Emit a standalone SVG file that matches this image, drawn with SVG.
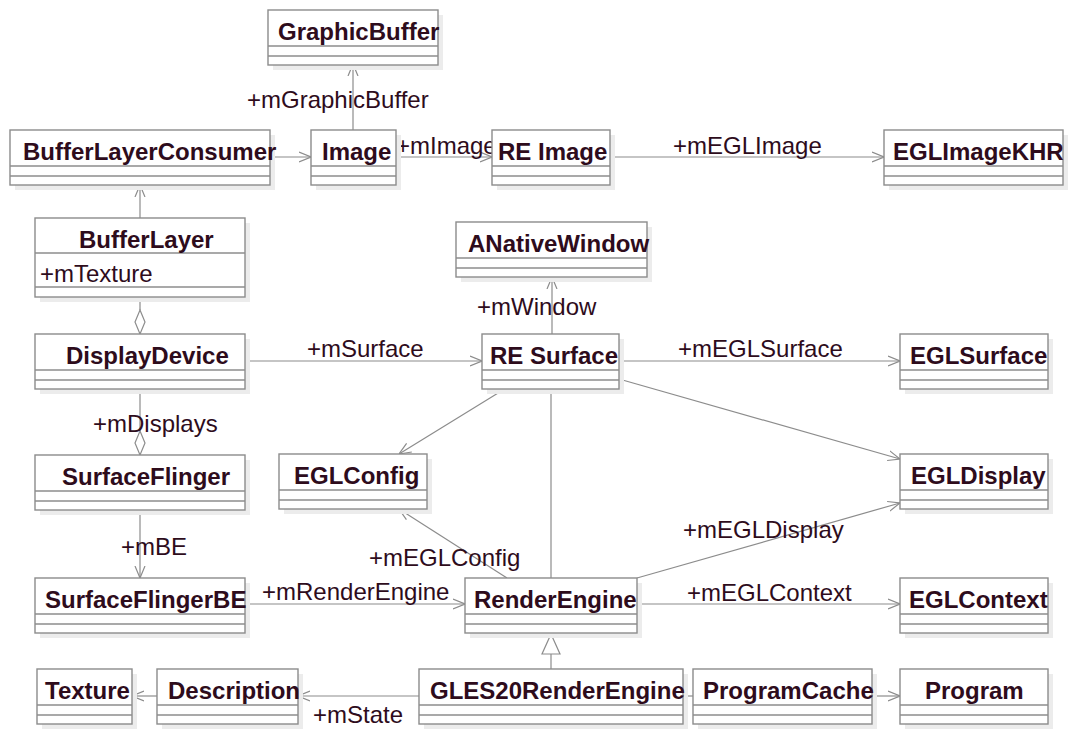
<svg xmlns="http://www.w3.org/2000/svg" width="1074" height="735" viewBox="0 0 1074 735">
<style>
.sh{fill:#ececec;stroke:none}
.box{fill:#fff;stroke:#8c8c8c;stroke-width:1.4}
.sep{stroke:#8c8c8c;stroke-width:1.4}
.nm{font-family:"Liberation Sans",Arial,sans-serif;font-weight:bold;font-size:24px;fill:#2e0c1c}
.at{font-family:"Liberation Sans",Arial,sans-serif;font-size:24px;fill:#2e0c1c}
.lb{font-family:"Liberation Sans",Arial,sans-serif;font-size:24px;fill:#2e0c1c}
.cn{fill:none;stroke:#8c8c8c;stroke-width:1.2}
.dm{fill:#fff;stroke:#8c8c8c;stroke-width:1.2}
</style>
<defs>
<marker id="oa" viewBox="0 0 12 12" refX="12" refY="6" markerWidth="12" markerHeight="12" markerUnits="userSpaceOnUse" orient="auto">
<path d="M0,1 L12,6 L0,11" fill="none" stroke="#8c8c8c" stroke-width="1.2"/>
</marker>
</defs>
<rect width="1074" height="735" fill="#fff"/>

<g id="connectors">
<line class="cn" x1="353" y1="130" x2="353" y2="64" marker-end="url(#oa)"/>
<line class="cn" x1="270" y1="157" x2="311" y2="157" marker-end="url(#oa)"/>
<line class="cn" x1="396" y1="157" x2="492" y2="157" marker-end="url(#oa)"/>
<line class="cn" x1="610" y1="157" x2="884" y2="157" marker-end="url(#oa)"/>
<line class="cn" x1="140" y1="218" x2="140" y2="185" marker-end="url(#oa)"/>
<line class="cn" x1="140" y1="297" x2="140" y2="310"/>
<polygon class="dm" points="140,310 145,322 140,334 135,322"/>
<line class="cn" x1="140" y1="389" x2="140" y2="431"/>
<polygon class="dm" points="140,431 145,443 140,455 135,443"/>
<line class="cn" x1="140" y1="510" x2="140" y2="578" marker-end="url(#oa)"/>
<line class="cn" x1="552" y1="334" x2="552" y2="277" marker-end="url(#oa)"/>
<line class="cn" x1="245" y1="361" x2="482" y2="361" marker-end="url(#oa)"/>
<line class="cn" x1="619" y1="361" x2="900" y2="361" marker-end="url(#oa)"/>
<line class="cn" x1="503" y1="390" x2="399" y2="454" marker-end="url(#oa)"/>
<line class="cn" x1="619" y1="379" x2="900" y2="459" marker-end="url(#oa)"/>
<line class="cn" x1="551" y1="389" x2="551" y2="578"/>
<line class="cn" x1="507" y1="578" x2="399" y2="509" marker-end="url(#oa)"/>
<line class="cn" x1="637" y1="578" x2="900" y2="503" marker-end="url(#oa)"/>
<line class="cn" x1="245" y1="604" x2="465" y2="604" marker-end="url(#oa)"/>
<line class="cn" x1="637" y1="604" x2="900" y2="604" marker-end="url(#oa)"/>
<line class="cn" x1="551" y1="669" x2="551" y2="654"/>
<polygon class="dm" points="551,634 560,654 542,654"/>
<line class="cn" x1="419" y1="696" x2="298" y2="696" marker-end="url(#oa)"/>
<line class="cn" x1="157" y1="696" x2="132" y2="696" marker-end="url(#oa)"/>
<line class="cn" x1="683" y1="696" x2="693" y2="696"/>
<line class="cn" x1="872" y1="696" x2="900" y2="696" marker-end="url(#oa)"/>
<text class="lb" x="247" y="108">+mGraphicBuffer</text>
<text class="lb" x="396" y="154">+mImage</text>
<text class="lb" x="673" y="154">+mEGLImage</text>
<text class="lb" x="477" y="315">+mWindow</text>
<text class="lb" x="307" y="357">+mSurface</text>
<text class="lb" x="678" y="357">+mEGLSurface</text>
<text class="lb" x="93" y="432">+mDisplays</text>
<text class="lb" x="683" y="538">+mEGLDisplay</text>
<text class="lb" x="121" y="555">+mBE</text>
<text class="lb" x="369" y="566">+mEGLConfig</text>
<text class="lb" x="262" y="600">+mRenderEngine</text>
<text class="lb" x="687" y="601">+mEGLContext</text>
<text class="lb" x="313" y="723">+mState</text>
</g>

<g id="GraphicBuffer"><rect class="sh" x="273" y="15" width="170" height="55"/><rect class="box" x="268" y="10" width="170" height="55"/><line class="sep" x1="268" y1="46" x2="438" y2="46"/><line class="sep" x1="268" y1="56" x2="438" y2="56"/><text class="nm" x="278" y="40">GraphicBuffer</text></g>
<g id="BufferLayerConsumer"><rect class="sh" x="15" y="135" width="260" height="55"/><rect class="box" x="10" y="130" width="260" height="55"/><line class="sep" x1="10" y1="166" x2="270" y2="166"/><line class="sep" x1="10" y1="176" x2="270" y2="176"/><text class="nm" x="23" y="160">BufferLayerConsumer</text></g>
<g id="Image"><rect class="sh" x="316" y="135" width="85" height="55"/><rect class="box" x="311" y="130" width="85" height="55"/><line class="sep" x1="311" y1="166" x2="396" y2="166"/><line class="sep" x1="311" y1="176" x2="396" y2="176"/><text class="nm" x="322" y="160">Image</text></g>
<g id="REImage"><rect class="sh" x="497" y="135" width="118" height="55"/><rect class="box" x="492" y="130" width="118" height="55"/><line class="sep" x1="492" y1="166" x2="610" y2="166"/><line class="sep" x1="492" y1="176" x2="610" y2="176"/><text class="nm" x="498" y="160">RE Image</text></g>
<g id="EGLImageKHR"><rect class="sh" x="889" y="135" width="179" height="55"/><rect class="box" x="884" y="130" width="179" height="55"/><line class="sep" x1="884" y1="166" x2="1063" y2="166"/><line class="sep" x1="884" y1="176" x2="1063" y2="176"/><text class="nm" x="893" y="160">EGLImageKHR</text></g>
<g id="BufferLayer"><rect class="sh" x="40" y="223" width="210" height="79"/><rect class="box" x="35" y="218" width="210" height="79"/><line class="sep" x1="35" y1="253" x2="245" y2="253"/><line class="sep" x1="35" y1="287" x2="245" y2="287"/><text class="nm" x="79" y="248">BufferLayer</text><text class="at" x="40" y="282">+mTexture</text></g>
<g id="ANativeWindow"><rect class="sh" x="461" y="227" width="191" height="55"/><rect class="box" x="456" y="222" width="191" height="55"/><line class="sep" x1="456" y1="258" x2="647" y2="258"/><line class="sep" x1="456" y1="268" x2="647" y2="268"/><text class="nm" x="468" y="252">ANativeWindow</text></g>
<g id="DisplayDevice"><rect class="sh" x="40" y="339" width="210" height="55"/><rect class="box" x="35" y="334" width="210" height="55"/><line class="sep" x1="35" y1="370" x2="245" y2="370"/><line class="sep" x1="35" y1="380" x2="245" y2="380"/><text class="nm" x="66" y="364">DisplayDevice</text></g>
<g id="RESurface"><rect class="sh" x="487" y="339" width="137" height="55"/><rect class="box" x="482" y="334" width="137" height="55"/><line class="sep" x1="482" y1="370" x2="619" y2="370"/><line class="sep" x1="482" y1="380" x2="619" y2="380"/><text class="nm" x="490" y="364">RE Surface</text></g>
<g id="EGLSurface"><rect class="sh" x="905" y="339" width="148" height="55"/><rect class="box" x="900" y="334" width="148" height="55"/><line class="sep" x1="900" y1="370" x2="1048" y2="370"/><line class="sep" x1="900" y1="380" x2="1048" y2="380"/><text class="nm" x="910" y="364">EGLSurface</text></g>
<g id="SurfaceFlinger"><rect class="sh" x="40" y="460" width="210" height="55"/><rect class="box" x="35" y="455" width="210" height="55"/><line class="sep" x1="35" y1="491" x2="245" y2="491"/><line class="sep" x1="35" y1="501" x2="245" y2="501"/><text class="nm" x="62" y="485">SurfaceFlinger</text></g>
<g id="EGLConfig"><rect class="sh" x="284" y="459" width="148" height="55"/><rect class="box" x="279" y="454" width="148" height="55"/><line class="sep" x1="279" y1="490" x2="427" y2="490"/><line class="sep" x1="279" y1="500" x2="427" y2="500"/><text class="nm" x="294" y="484">EGLConfig</text></g>
<g id="EGLDisplay"><rect class="sh" x="905" y="459" width="148" height="55"/><rect class="box" x="900" y="454" width="148" height="55"/><line class="sep" x1="900" y1="490" x2="1048" y2="490"/><line class="sep" x1="900" y1="500" x2="1048" y2="500"/><text class="nm" x="911" y="484">EGLDisplay</text></g>
<g id="SurfaceFlingerBE"><rect class="sh" x="40" y="583" width="210" height="55"/><rect class="box" x="35" y="578" width="210" height="55"/><line class="sep" x1="35" y1="614" x2="245" y2="614"/><line class="sep" x1="35" y1="624" x2="245" y2="624"/><text class="nm" x="45" y="608">SurfaceFlingerBE</text></g>
<g id="RenderEngine"><rect class="sh" x="470" y="583" width="172" height="55"/><rect class="box" x="465" y="578" width="172" height="55"/><line class="sep" x1="465" y1="614" x2="637" y2="614"/><line class="sep" x1="465" y1="624" x2="637" y2="624"/><text class="nm" x="474" y="608">RenderEngine</text></g>
<g id="EGLContext"><rect class="sh" x="905" y="583" width="148" height="55"/><rect class="box" x="900" y="578" width="148" height="55"/><line class="sep" x1="900" y1="614" x2="1048" y2="614"/><line class="sep" x1="900" y1="624" x2="1048" y2="624"/><text class="nm" x="909" y="608">EGLContext</text></g>
<g id="Texture"><rect class="sh" x="42" y="674" width="95" height="55"/><rect class="box" x="37" y="669" width="95" height="55"/><line class="sep" x1="37" y1="705" x2="132" y2="705"/><line class="sep" x1="37" y1="715" x2="132" y2="715"/><text class="nm" x="45" y="699">Texture</text></g>
<g id="Description"><rect class="sh" x="162" y="674" width="141" height="55"/><rect class="box" x="157" y="669" width="141" height="55"/><line class="sep" x1="157" y1="705" x2="298" y2="705"/><line class="sep" x1="157" y1="715" x2="298" y2="715"/><text class="nm" x="168" y="699">Description</text></g>
<g id="GLES20RenderEngine"><rect class="sh" x="424" y="674" width="264" height="55"/><rect class="box" x="419" y="669" width="264" height="55"/><line class="sep" x1="419" y1="705" x2="683" y2="705"/><line class="sep" x1="419" y1="715" x2="683" y2="715"/><text class="nm" x="430" y="699">GLES20RenderEngine</text></g>
<g id="ProgramCache"><rect class="sh" x="698" y="674" width="179" height="55"/><rect class="box" x="693" y="669" width="179" height="55"/><line class="sep" x1="693" y1="705" x2="872" y2="705"/><line class="sep" x1="693" y1="715" x2="872" y2="715"/><text class="nm" x="703" y="699">ProgramCache</text></g>
<g id="Program"><rect class="sh" x="905" y="674" width="148" height="55"/><rect class="box" x="900" y="669" width="148" height="55"/><line class="sep" x1="900" y1="705" x2="1048" y2="705"/><line class="sep" x1="900" y1="715" x2="1048" y2="715"/><text class="nm" x="925" y="699">Program</text></g>
</svg>
